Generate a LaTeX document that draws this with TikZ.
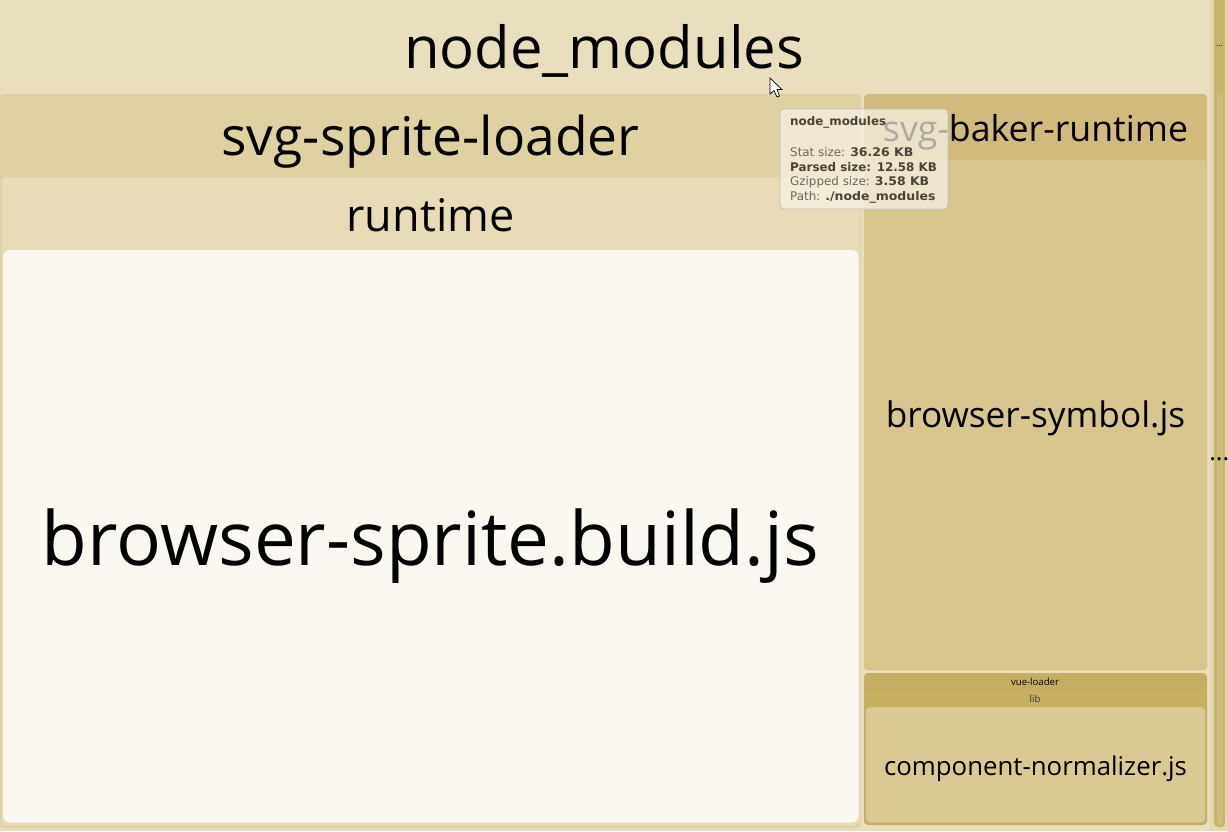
\documentclass[tikz,border=0pt]{standalone}
\usepackage{fontspec}
\setmainfont{Open Sans}
\newfontfamily\tipfont[BoldFeatures={FakeStretch=1.05}]{DejaVu Sans}
\newfontfamily\tipplain{DejaVu Sans}
\definecolor{cRoot}{HTML}{E9DFBE}
\definecolor{cLoader}{HTML}{E0D1A2}
\definecolor{cRuntime}{HTML}{E7DCB7}
\definecolor{cSprite}{HTML}{FBF8F1}
\definecolor{cBaker}{HTML}{D1BA7C}
\definecolor{cSymbol}{HTML}{D8C68E}
\definecolor{cVue}{HTML}{C5AE64}
\definecolor{cLib}{HTML}{C8B063}
\definecolor{cComp}{HTML}{DAC993}
\definecolor{cStripA}{HTML}{E4D9B3}
\definecolor{cStripB}{HTML}{C9B46C}
\definecolor{cStripC}{HTML}{D0BC7E}
\definecolor{cTipText}{HTML}{4A4234}
\definecolor{cTipSoft}{HTML}{6E6758}
\definecolor{cTipFill}{HTML}{F7F3E8}
\tikzset{
  x=1pt,y=-1pt,
  cell/.style={rounded corners=4pt,draw=none},
  lab/.style={anchor=center,inner sep=0pt,text=black},
  tipline/.style={anchor=west,inner sep=0pt,text=cTipSoft,font=\tipfont\fontsize{11.9}{13}\selectfont},
}
\newcommand{\fsz}[1]{\fontsize{#1}{#1}\selectfont}
\newcommand{\tb}[1]{\textcolor{cTipText}{\textbf{#1}}}
\newcommand{\tbp}[1]{\textcolor{cTipText}{\tipplain\textbf{#1}}}
\begin{document}
\begin{tikzpicture}
\useasboundingbox (0,0) rectangle (1228,831);
\fill[cRoot] (0,0) rectangle (1228,831);
% right strip
\fill[cStripA] (1210,0) rectangle (1228,831);
\fill[cStripB,rounded corners=4pt] (1214,-4) rectangle (1225,827);
\fill[cStripC,rounded corners=3pt] (1217,94) rectangle (1223,825);
% svg-sprite-loader
\fill[cLoader,cell] (0,94) rectangle (861,828);
\fill[cRuntime,cell] (2,177) rectangle (860,825.5);
\fill[cSprite,cell,rounded corners=7pt] (3,250) rectangle (858.5,822.5);
% svg-baker-runtime
\fill[cBaker,cell] (864,94) rectangle (1207,670);
\fill[cSymbol,cell] (864,160) rectangle (1207,669);
% vue-loader
\fill[cVue,cell] (864,673) rectangle (1207,825);
\fill[cLib] (864,690) rectangle (1207,707);
\fill[cComp,cell] (866,707) rectangle (1205,822.5);
% labels
\node[lab] (root) at (604,51) {\fsz{58}node\_modules};
\node[lab] (loader) at (430.5,142) {\fsz{53.4}svg-sprite-loader};
\node[lab] (runtime) at (430.5,215) {\fsz{45}runtime};
\node[lab] (sprite) at (430.5,546) {\fsz{74.7}browser-sprite.build.js};
\node[lab] (baker) at (1035.5,132) {\fsz{35.7}svg-baker-runtime};
\node[lab] (symbol) at (1035.5,418) {\fsz{35.2}browser-symbol.js};
\node[lab] (vue) at (1035,682) {\fsz{9.6}vue-loader};
\node[lab,text=black!80] (lib) at (1035,699) {\fsz{9.6}lib};
\node[lab] (comp) at (1035.5,769) {\fsz{25.8}component-normalizer.js};
\node[lab,font=\fsz{8}] (dotsA) at (1219.3,46) {...};
\node[lab,font=\fsz{25}] (dotsB) at (1219.3,459) {...};
% tooltip
\fill[cTipFill,opacity=.7,rounded corners=4pt] (780,109) rectangle (948,209);
\draw[black!25,rounded corners=4pt,line width=.8pt] (780,109) rectangle (948,209);
\node[tipline] (t1) at (790,122.5) {\tbp{node\_modules}};
\node[tipline] (t2) at (790,152.5) {Stat size: \tb{36.26 KB}};
\node[tipline] (t3) at (790,167.5) {\tbp{Parsed size: 12.58 KB}};
\node[tipline] (t4) at (790,182.5) {Gzipped size: \tb{3.58 KB}};
\node[tipline] (t5) at (790,197.5) {Path: \tb{./node\_modules}};
% cursor
\draw[black,fill=white,line width=.7pt,line join=miter] (770,78) -- (770,94) -- (774,90.5) -- (777,97) -- (779.5,96) -- (777,89.5) -- (782,89.5) -- cycle;
\end{tikzpicture}
\end{document}
